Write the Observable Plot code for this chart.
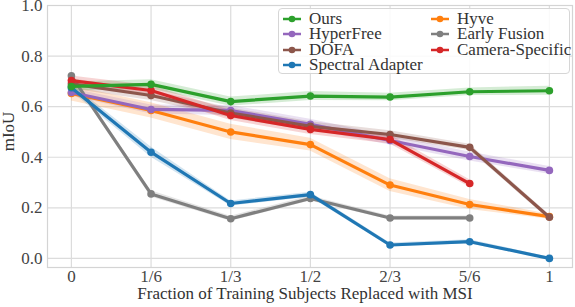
<!DOCTYPE html>
<html>
<head>
<meta charset="utf-8">
<script src="https://cdn.jsdelivr.net/npm/d3@7"></script>
<script src="https://cdn.jsdelivr.net/npm/@observablehq/plot@0.6"></script>
<style>
  html, body { margin: 0; padding: 0; background: #fff; }
  #wrap { position: relative; width: 575px; height: 307px; font-family: "Liberation Serif", "Times New Roman", serif; }
  #legend { position: absolute; left: 278px; top: 8px; width: 292px; height: 66px; box-sizing: border-box;
            border: 1px solid #d6d6d6; border-radius: 4px; background: rgba(255,255,255,0.85); }
  .item { position: absolute; display: flex; align-items: center; font-size: 17px; color: #333; white-space: nowrap; line-height: 13px; height: 13px; }
  .item span { display: inline-block; line-height: 13px; height: 13px; }
  .item svg { margin-right: 7px; }
  #xlabel { position: absolute; left: 0; width: 610px; top: 285px; text-align: center; font-size: 17px; color: #333; line-height: 1; }
  #ylabel { position: absolute; left: 0px; top: 131px; font-size: 17px; color: #333; line-height: 1; }
</style>
</head>
<body>
<div id="wrap"><div id="chart"></div><div id="legend"></div><div id="xlabel"></div><div id="ylabel"></div></div>
<script>
const tickLabels = ["0", "1/6", "1/3", "1/2", "2/3", "5/6", "1"];
const steps = [0, 1, 2, 3, 4, 5, 6];
const xTitle = "Fraction of Training Subjects Replaced with MSI";
const yTitle = "mIoU";

const seriesNames = ["Ours", "HyperFree", "DOFA", "Spectral Adapter", "Hyve", "Early Fusion", "Camera-Specific"];
const seriesColors = ["#2ca02c", "#9467bd", "#8c564b", "#1f77b4", "#ff7f0e", "#7f7f7f", "#d62728"];

const ours          = [0.680, 0.688, 0.620, 0.642, 0.638, 0.659, 0.663];
const hyperFree     = [0.656, 0.589, 0.585, 0.530, 0.466, 0.403, 0.348];
const dofa          = [0.690, 0.644, 0.575, 0.522, 0.490, 0.439, 0.163];
const spectral      = [0.675, 0.420, 0.217, 0.252, 0.053, 0.066, 0.000];
const hyve          = [0.652, 0.585, 0.500, 0.450, 0.290, 0.213, 0.165];
const earlyFusion   = [0.722, 0.255, 0.157, 0.237, 0.160, 0.160, null];
const cameraSpec    = [0.703, 0.664, 0.565, 0.510, 0.470, 0.296, null];

const oursSd        = [0.018, 0.018, 0.018, 0.018, 0.015, 0.015, 0.018];
const hyperFreeSd   = [0.015, 0.018, 0.020, 0.020, 0.018, 0.018, 0.015];
const dofaSd        = [0.020, 0.020, 0.020, 0.018, 0.015, 0.012, 0.010];
const spectralSd    = [0.015, 0.020, 0.010, 0.010, 0.008, 0.008, 0.005];
const hyveSd        = [0.030, 0.030, 0.030, 0.025, 0.025, 0.020, 0.010];
const earlyFusionSd = [0.010, 0.012, 0.010, 0.010, 0.008, 0.008, null];
const cameraSpecSd  = [0.018, 0.020, 0.020, 0.020, 0.018, 0.015, null];

const allVals = [ours, hyperFree, dofa, spectral, hyve, earlyFusion, cameraSpec];
const allSds  = [oursSd, hyperFreeSd, dofaSd, spectralSd, hyveSd, earlyFusionSd, cameraSpecSd];

// draw order (later on top)
const drawOrder = [5, 4, 1, 2, 6, 3, 0];

const marks = [
  Plot.gridX(steps, {stroke: "#dcdcdc", strokeOpacity: 1, strokeWidth: 1.2}),
  Plot.gridY([0, 0.2, 0.4, 0.6, 0.8, 1.0], {stroke: "#dcdcdc", strokeOpacity: 1, strokeWidth: 1.2}),
  Plot.frame({stroke: "#d4d4d4", strokeWidth: 1.2})
];

for (const i of drawOrder) {
  const rows = steps.map((s, k) => ({x: s, y: allVals[i][k], sd: allSds[i][k]})).filter(d => d.y != null);
  marks.push(Plot.areaY(rows, {x: "x", y1: d => d.y - d.sd, y2: d => d.y + d.sd, fill: seriesColors[i], fillOpacity: 0.2}));
}
for (const i of drawOrder) {
  const rows = steps.map((s, k) => ({x: s, y: allVals[i][k]})).filter(d => d.y != null);
  marks.push(Plot.line(rows, {x: "x", y: "y", stroke: seriesColors[i], strokeWidth: 3.2}));
  marks.push(Plot.dot(rows, {x: "x", y: "y", fill: seriesColors[i], r: 3.8, stroke: "none"}));
}

const chart = Plot.plot({
  width: 575,
  height: 307,
  marginLeft: 47,
  marginRight: 3,
  marginTop: 5,
  marginBottom: 40,
  style: {fontFamily: "'Liberation Serif', 'Times New Roman', serif", fontSize: "17px", color: "#444", background: "#fff"},
  x: {domain: [-0.30, 6.29], ticks: steps, tickFormat: i => tickLabels[i], tickSize: 0, tickPadding: 2, label: null},
  y: {domain: [-0.036, 1.0], ticks: [0, 0.2, 0.4, 0.6, 0.8, 1.0], tickFormat: d3.format(".1f"), tickSize: 0, tickPadding: 5, label: null},
  marks
});
document.getElementById("chart").appendChild(chart);
document.getElementById("xlabel").textContent = xTitle;
const yl = document.getElementById("ylabel");
yl.textContent = yTitle;
// center the rotated y label at x≈9, y≈131
const w = yl.offsetWidth, h = yl.offsetHeight;
yl.style.left = (9 - w / 2) + "px";
yl.style.top = (131 - h / 2) + "px";
yl.style.transform = "rotate(-90deg)";

// legend (HTML overlay, column-major like matplotlib ncol=2)
const legend = document.getElementById("legend");
const rowsY = [10, 25, 41, 56];
seriesNames.forEach((name, i) => {
  const col = i < 4 ? 0 : 1;
  const row = i < 4 ? i : i - 4;
  const div = document.createElement("div");
  div.className = "item";
  div.style.left = (col === 0 ? 3 : 151) + "px";
  div.style.top = (rowsY[row] - 7) + "px";
  div.innerHTML = `<svg width="20" height="10"><line x1="1" y1="5" x2="19" y2="5" stroke="${seriesColors[i]}" stroke-width="2.5"/><circle cx="10" cy="5" r="3.3" fill="${seriesColors[i]}"/></svg><span>${name}</span>`;
  legend.appendChild(div);
});
</script>
</body>
</html>
